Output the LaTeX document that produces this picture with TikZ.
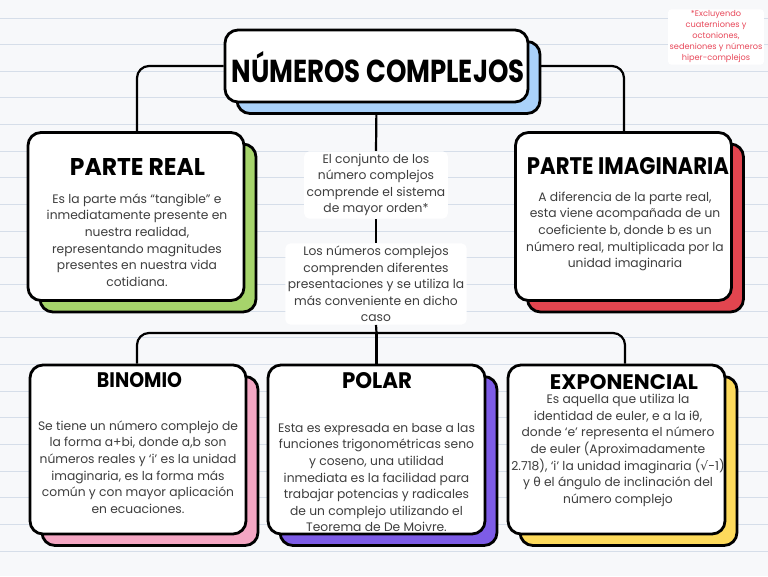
\documentclass[tikz,border=0pt]{standalone}
\usepackage{fontspec}
\setmainfont{Poppins}
\newfontfamily\hfont{Poppins}
\newfontfamily\djv{DejaVu Sans}
\usetikzlibrary{shadows}
\definecolor{paper}{HTML}{F7F8FA}
\definecolor{rule}{HTML}{D6DEE9}
\definecolor{txt}{HTML}{3E3E3E}
\definecolor{cblue}{HTML}{A9D1FA}
\definecolor{cgreen}{HTML}{A6D46B}
\definecolor{cred}{HTML}{E2454F}
\definecolor{cpink}{HTML}{F4A6C3}
\definecolor{cpurple}{HTML}{7D5CE6}
\definecolor{cyellow}{HTML}{FDDA5C}
\definecolor{cnote}{HTML}{E8485A}
\pgfdeclarelayer{paperlayer}
\pgfdeclarelayer{connlayer}
\pgfsetlayers{paperlayer,connlayer,main}
\newcommand{\hd}[3]{\resizebox{#1}{#2}{\hfont\bfseries #3}}
\begin{document}
\begin{tikzpicture}[x=1pt,y=-1pt,
  card/.style 2 args={draw=black, line width=2.8pt, fill=white, rounded corners=13pt,
    minimum width=#1, minimum height=168pt, inner sep=0pt},
  shad/.style={drop shadow={shadow xshift=12pt, shadow yshift=-11.5pt, fill=#1, draw=black, line width=2.8pt, opacity=1}},
  head/.style={inner sep=0pt, text=black},
  body/.style={inner sep=0pt, align=center, text=txt, font=\fontsize{12.3}{16.6}\selectfont},
  mid/.style={fill=white, rounded corners=5pt, inner sep=2.5pt, align=center, text=txt, font=\fontsize{12.3}{16.6}\selectfont},
  conn/.style={draw=black, line width=2.2pt, rounded corners=12pt}]
\useasboundingbox (0,0) rectangle (768,576);
\begin{pgfonlayer}{paperlayer}
  \fill[paper] (0,0) rectangle (768,576);
  \foreach \k in {0,...,21} \draw[rule, line width=1pt] (0,18+26.65*\k) -- (768,18+26.65*\k);
\end{pgfonlayer}

% title
\node[card={303pt}{}, minimum height=72pt, shad=cblue] (title) at (376.5,66) {};
\node[head] (titletext) at (378,67.5) {\hd{293pt}{31pt}{NÚMEROS COMPLEJOS}};

% parte real
\node[card={216pt}{}, shad=cgreen] (real) at (136,216.5) {};
\node[head] (realhead) at (137.5,166.5) {\hd{135pt}{17pt}{PARTE REAL}};
\node[body] (realbody) at (137,240) {Es la parte más “tangible” e\\inmediatamente presente en\\nuestra realidad,\\representando magnitudes\\presentes en nuestra vida\\cotidiana.};

% parte imaginaria
\node[card={216pt}{}, shad=cred] (imag) at (623.5,216.5) {};
\node[head] (imaghead) at (628,166.5) {\hd{202pt}{17pt}{PARTE IMAGINARIA}};
\node[body] (imagbody) at (625,231.5) {A diferencia de la parte real,\\esta viene acompañada de un\\coeficiente b, donde b es un\\número real, multiplicada por la\\unidad imaginaria};

% middle texts
\node[mid] (t1) at (376,185) {El conjunto de los\\número complejos\\comprende el sistema\\de mayor orden*};
\node[mid] (t2) at (376,284) {Los números complejos\\comprenden diferentes\\presentaciones y se utiliza la\\más conveniente en dicho\\caso};

% binomio
\node[card={216pt}{}, minimum height=169pt, shad=cpink] (bin) at (138,449.5) {};
\node[head] (binhead) at (139.5,380.5) {\hd{85pt}{15pt}{BINOMIO}};
\node[body] (binbody) at (138,467) {Se tiene un número complejo de\\la forma a+bi, donde a,b son\\números reales y ‘i’ es la unidad\\imaginaria, es la forma más\\común y con mayor aplicación\\en ecuaciones.};

% polar
\node[card={217pt}{}, minimum height=169pt, shad=cpurple] (pol) at (376.5,449.5) {};
\node[head] (polhead) at (377,381) {\hd{70pt}{16pt}{POLAR}};
\node[body] (polbody) at (376.5,477.5) {Esta es expresada en base a las\\funciones trigonométricas seno\\y coseno, una utilidad\\inmediata es la facilidad para\\trabajar potencias y radicales\\de un complejo utilizando el\\Teorema de De Moivre.};

% exponencial
\node[card={217pt}{}, minimum height=169pt, shad=cyellow] (expo) at (616.5,449.5) {};
\node[head] (expohead) at (624,382.5) {\hd{148pt}{15pt}{EXPONENCIAL}};
\node[body] (expobody) at (618,450.5) {Es aquella que utiliza la\\identidad de euler, e a la i{\djv θ},\\donde ‘e’ representa el número\\de euler (Aproximadamente\\2.718), ‘i’ la unidad imaginaria ({\djv √}-1)\\y {\djv θ} el ángulo de inclinación del\\número complejo};

% note
\node[fill=white, rounded corners=3pt, inner sep=1.5pt, align=center, text=cnote,
  font=\fontsize{8.2}{11}\selectfont] (note) at (716,37) {*Excluyendo\\cuaterniones y\\octoniones,\\sedeniones y números\\hiper-complejos};

% connectors
\coordinate (bus) at (376.5,333);
\begin{pgfonlayer}{connlayer}
  \draw[conn] (title.west) -| (real.north -| 137,0);
  \draw[conn] (title.east) -| (imag.north -| 624,0);
  \draw[conn] (title.south) -- (t1.north);
  \draw[conn] (t1.south) -- (t2.north);
  \draw[conn] (t2.south) -- (bus);
  \draw[conn] (bin.north -| 137,0) |- (bus) -| (expo.north -| 625,0);
  \draw[conn] (bus) -- (pol.north);
\end{pgfonlayer}
\end{tikzpicture}
\end{document}
